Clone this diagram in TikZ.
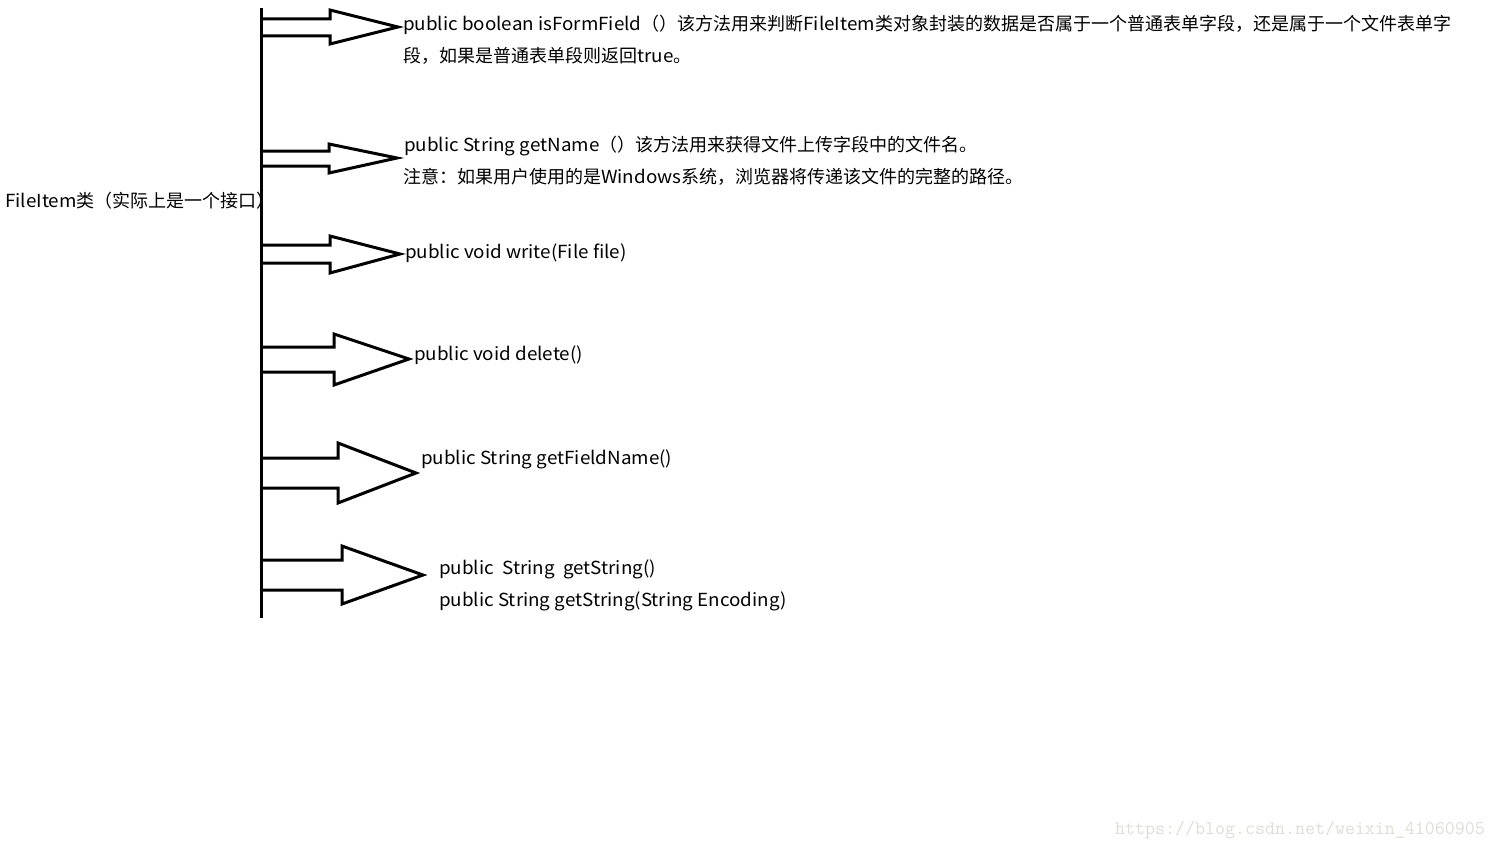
\documentclass[tikz,border=0pt]{standalone}
\usepackage{fontspec}
\setmainfont{Noto Sans CJK SC}
\newfontfamily\latfont{Noto Sans CJK SC}[FakeStretch=1.045]
\newcommand\latx[1]{{\latfont #1}}
\begin{document}
\begin{tikzpicture}[x=1pt,y=-1pt,
  blk/.style={line width=3pt, line join=miter, draw=black},
  txt/.style={anchor=base west, inner sep=0pt, font=\fontsize{18}{18}\selectfont},
  wmark/.style={anchor=base west, inner sep=0pt, text={rgb,255:red,222;green,222;blue,214}, font=\fontsize{19.4}{19.4}\ttfamily}]
\useasboundingbox[fill=white] (0,0) rectangle (1495,848);
% spine
\coordinate (top) at (261.5,8);
\coordinate (bot) at (261.5,618);
\draw[line width=3pt] (top) -- (bot);
% block arrows
\draw[blk] (262,19) -- (330,19) -- (330,10) -- (398,27) -- (330,44) -- (330,36) -- (262,36);
\draw[blk] (262,151) -- (329,151) -- (329,144) -- (397,158) -- (329,173) -- (329,166) -- (262,166);
\draw[blk] (262,245) -- (330,245) -- (330,236) -- (400,254) -- (330,273) -- (330,263) -- (262,263);
\draw[blk] (261,347) -- (334,347) -- (334,334) -- (409,359) -- (334,385) -- (334,372) -- (261,372);
\draw[blk] (261,458) -- (338,458) -- (338,443) -- (416,473) -- (338,503) -- (338,488) -- (261,488);
\draw[blk] (261,560) -- (342,560) -- (342,546) -- (423,575) -- (342,604) -- (342,590) -- (261,590);
% texts
\node[txt] (title) at (5,207) {\latx{FileItem}类（实际上是一个接口）};
\node[txt] (t1a) at (403,31) {\latx{public boolean isFormField}（）该方法用来判断\latx{FileItem}类对象封装的数据是否属于一个普通表单字段，还是属于一个文件表单字};
\node[txt] (t1b) at (403,63) {段，如果是普通表单段则返回\latx{true}。};
\node[txt] (t2a) at (404,151) {\latx{public String getName}（）该方法用来获得文件上传字段中的文件名。};
\node[txt] (t2b) at (403,183) {注意：如果用户使用的是\latx{Windows}系统，浏览器将传递该文件的完整的路径。};
\node[txt] (t3) at (405,258) {\latx{public void write(File file)}};
\node[txt] (t4) at (414,360) {\latx{public void delete()}};
\node[txt] (t5) at (421,464) {\latx{public String getFieldName()}};
\node[txt] (t6a) at (439,574) {\latx{public\ \ String\ \ getString()}};
\node[txt] (t6b) at (439,606) {\latx{public String getString(String Encoding)}};
\node[wmark] (wm) at (1115,834) {https://blog.csdn.net/weixin\_41060905};
\end{tikzpicture}
\end{document}
